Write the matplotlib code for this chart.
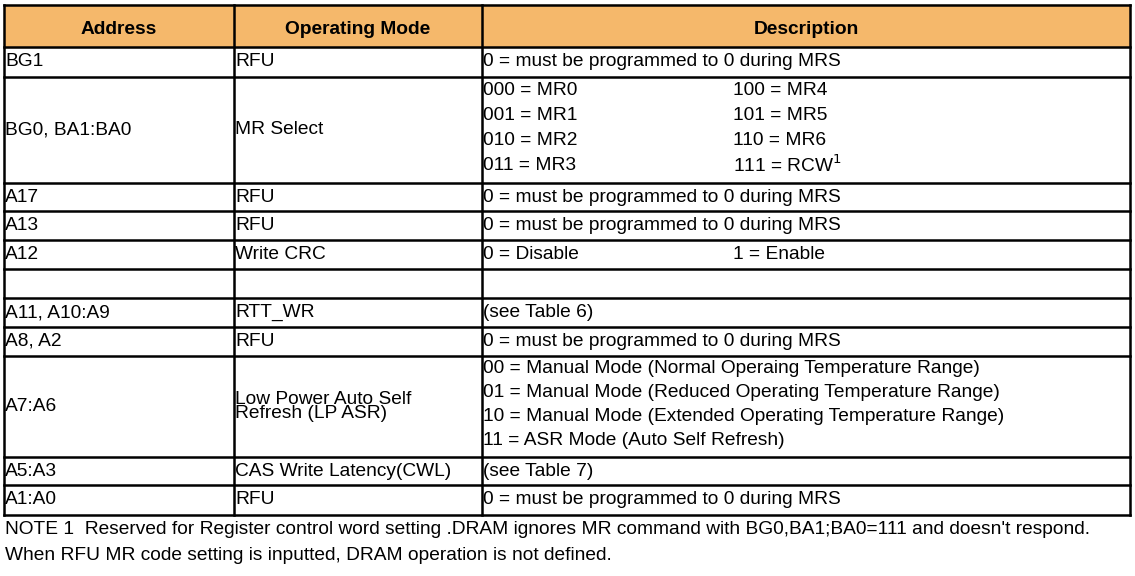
import matplotlib
matplotlib.use("Agg")
import matplotlib.pyplot as plt
from matplotlib.patches import Rectangle

headers = ["Address", "Operating Mode", "Description"]
addresses = ["BG1", "BG0, BA1:BA0", "A17", "A13", "A12", "", "A11, A10:A9", "A8, A2",
             "A7:A6", "A5:A3", "A1:A0"]
modes = ["RFU", "MR Select", "RFU", "RFU", "Write CRC", "", "RTT_WR", "RFU",
         "Low Power Auto Self\nRefresh (LP ASR)", "CAS Write Latency(CWL)", "RFU"]
MRS0 = "0 = must be programmed to 0 during MRS"
desc_left = [[MRS0], ["000 = MR0", "001 = MR1", "010 = MR2", "011 = MR3"], [MRS0], [MRS0],
             ["0 = Disable"], [], ["(see Table 6)"], [MRS0],
             ["00 = Manual Mode (Normal Operaing Temperature Range)",
              "01 = Manual Mode (Reduced Operating Temperature Range)",
              "10 = Manual Mode (Extended Operating Temperature Range)",
              "11 = ASR Mode (Auto Self Refresh)"],
             ["(see Table 7)"], [MRS0]]
desc_right = [[], ["100 = MR4", "101 = MR5", "110 = MR6", "111 = RCW$^1$"], [], [],
              ["1 = Enable"], [], [], [], [], [], []]
notes = ["NOTE 1  Reserved for Register control word setting .DRAM ignores MR command with BG0,BA1;BA0=111 and doesn't respond.",
         "When RFU MR code setting is inputted, DRAM operation is not defined."]

W, H = 1135, 576
fig = plt.figure(figsize=(W/100, H/100), dpi=100)
ax = fig.add_axes([0, 0, 1, 1])
ax.set_xlim(0, W); ax.set_ylim(H, 0); ax.axis("off")

cols = [4, 234, 482, 1130]
rows = [5, 47, 77, 183, 211, 240, 269, 298, 327, 356, 457, 485, 515]
ax.add_patch(Rectangle((cols[0], rows[0]), cols[-1]-cols[0], rows[1]-rows[0], color="#F5B86B", zorder=0))
for y in rows:
    ax.plot([cols[0], cols[-1]], [y, y], color="black", lw=1.8, solid_capstyle="projecting")
for x in cols:
    ax.plot([x, x], [rows[0], rows[-1]], color="black", lw=1.8, solid_capstyle="projecting")

fs = 13.8
for i, h in enumerate(headers):
    ax.text((cols[i]+cols[i+1])/2, (rows[0]+rows[1])/2+4, h, ha="center", va="center",
            fontsize=fs, fontweight="bold", family="Liberation Sans")

for r in range(len(addresses)):
    y0, y1 = rows[r+1], rows[r+2]
    yc = (y0+y1)/2
    ax.text(cols[0]+1, yc, addresses[r], ha="left", va="center", fontsize=fs, family="Liberation Sans")
    ax.text(cols[1]+1, yc, modes[r], ha="left", va="center", fontsize=fs,
            family="Liberation Sans", linespacing=0.8)
    for lines, xx in ((desc_left[r], cols[2]+1), (desc_right[r], 733)):
        n = len(lines)
        if n == 1:
            ys = [yc]
        elif n:
            step = (y1-y0-6)/n
            ys = [y0+1+step*(k+0.5) for k in range(n)]
        for k, t in enumerate(lines):
            ax.text(xx, ys[k], t, ha="left", va="center", fontsize=fs, family="Liberation Sans")

for k, t in enumerate(notes):
    ax.text(cols[0]+1, 530+k*26, t, ha="left", va="center", fontsize=fs, family="Liberation Sans")

fig.savefig("out.png", dpi=100, facecolor="white")
